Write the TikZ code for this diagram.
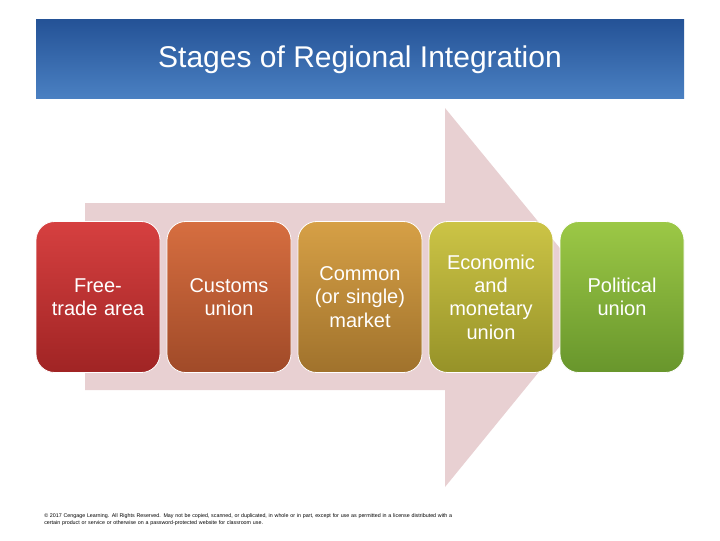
\documentclass[tikz,border=0pt]{standalone}
\usepackage{fontspec}
\setmainfont{Liberation Sans}
\definecolor{tA}{RGB}{36,82,150}
\definecolor{tB}{RGB}{74,128,194}
\definecolor{arr}{RGB}{232,208,210}
\definecolor{a1}{RGB}{214,64,64}\definecolor{b1}{RGB}{160,36,36}
\definecolor{a2}{RGB}{214,110,64}\definecolor{b2}{RGB}{160,74,40}
\definecolor{a3}{RGB}{214,160,70}\definecolor{b3}{RGB}{160,114,44}
\definecolor{a4}{RGB}{204,196,70}\definecolor{b4}{RGB}{150,146,40}
\definecolor{a5}{RGB}{156,200,70}\definecolor{b5}{RGB}{104,150,44}
\begin{document}
\begin{tikzpicture}[x=0.75pt,y=-0.75pt,
  stage/.style={rounded corners=14pt,minimum width=124*0.75pt,minimum height=151*0.75pt,
    text width=112*0.75pt,align=center,text=white,font=\fontsize{15}{17.5}\selectfont,draw=white,line width=0.6pt}]
\useasboundingbox (0,0) rectangle (720,540);
\fill[white] (0,0) rectangle (720,540);
\shade[top color=tA, bottom color=tB] (36,19) rectangle (684,98);
\node[text=white,font=\fontsize{22.5}{26}\selectfont] (title) at (360,60) {Stages of Regional Integration};
\fill[arr] (85,203) -- (445,203) -- (445,108) -- (600,297) -- (445,487) -- (445,390) -- (85,390) -- cycle;
\node[stage,top color=a1,bottom color=b1] (s1) at (98,297) {Free-\\trade area};
\node[stage,top color=a2,bottom color=b2] (s2) at (229,297) {Customs\\union};
\node[stage,top color=a3,bottom color=b3] (s3) at (360,297) {Common\\(or single)\\market};
\node[stage,top color=a4,bottom color=b4] (s4) at (491,297) {Economic\\and\\monetary\\union};
\node[stage,top color=a5,bottom color=b5] (s5) at (622,297) {Political\\union};
\node[anchor=north west,align=left,text width=410*0.75pt,font=\fontsize{4}{5.5}\selectfont,inner sep=0pt] (foot) at (44,513) {\hyphenpenalty=10000 \textcopyright{} 2017 Cengage Learning. All Rights Reserved. May not be copied, scanned, or duplicated, in whole or in part, except for use as permitted in a license distributed with a certain product or service or otherwise on a password-protected website for classroom use.};
\end{tikzpicture}
\end{document}
